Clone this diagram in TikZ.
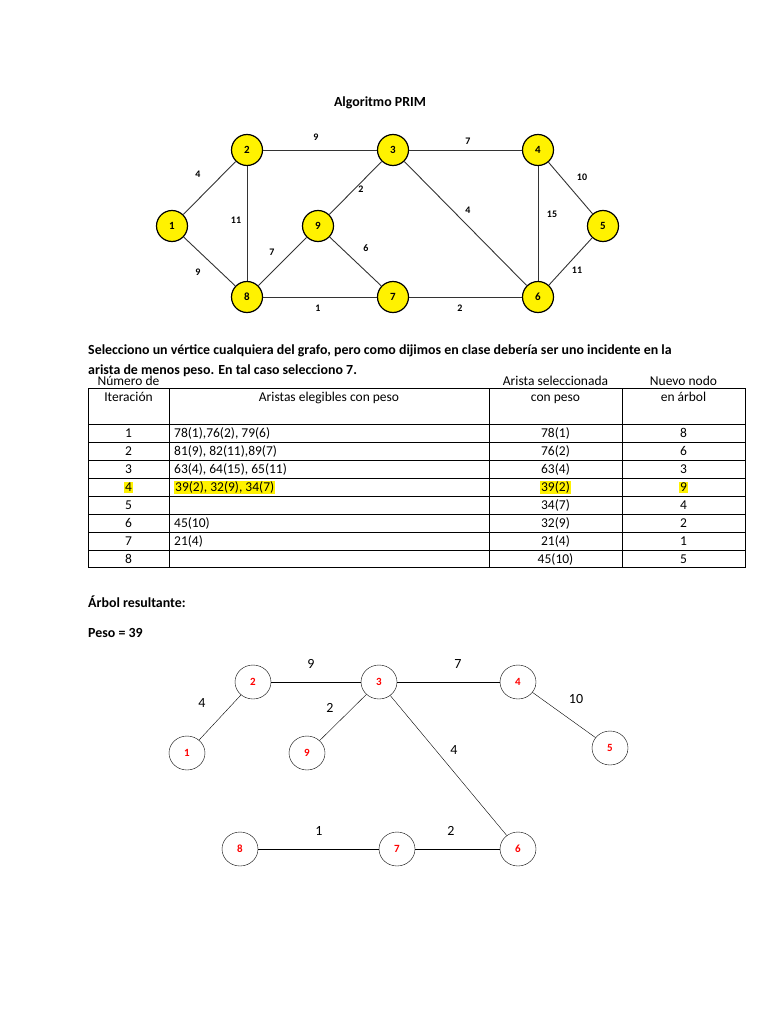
\documentclass[tikz,border=0pt]{standalone}
\usepackage{fontspec}
\setmainfont{Carlito}
\usetikzlibrary{shapes.geometric}
\begin{document}
\begin{tikzpicture}[x=1pt,y=-1pt,
 yn/.style={circle,draw,line width=1.2pt,fill=yellow,minimum size=31pt,inner sep=0pt,font=\fontsize{11}{13}\selectfont\bfseries},
 ge/.style={line width=0.9pt,draw=black!80},
 gl/.style={font=\fontsize{10}{12}\selectfont\bfseries},
 tn/.style={ellipse,draw,minimum width=36pt,minimum height=34pt,inner sep=0pt,text=red,font=\fontsize{11}{13}\selectfont\bfseries},
 tl/.style={font=\fontsize{14}{16}\selectfont},
 tx/.style={font=\fontsize{13.9}{16}\selectfont\bfseries,anchor=base west,inner sep=0pt},
 hl/.style={fill=yellow,inner sep=1pt}]
\useasboundingbox (0,0) rectangle (768,1024);
\node[font=\fontsize{13.9}{16}\selectfont\bfseries] (title) at (380,103) {Algoritmo PRIM};
\node[yn] (n1) at (172,226) {1};
\node[yn] (n2) at (247,150) {2};
\node[yn] (n3) at (393,150) {3};
\node[yn] (n4) at (538,150) {4};
\node[yn] (n5) at (603,226) {5};
\node[yn] (n9) at (318,226) {9};
\node[yn] (n8) at (247,297) {8};
\node[yn] (n7) at (393,297) {7};
\node[yn] (n6) at (538,297) {6};
\draw[ge] (n1)--(n2); \draw[ge] (n2)--(n3); \draw[ge] (n3)--(n4); \draw[ge] (n4)--(n5);
\draw[ge] (n2)--(n8); \draw[ge] (n1)--(n8); \draw[ge] (n3)--(n9); \draw[ge] (n3)--(n6);
\draw[ge] (n4)--(n6); \draw[ge] (n5)--(n6); \draw[ge] (n9)--(n8); \draw[ge] (n9)--(n7);
\draw[ge] (n8)--(n7); \draw[ge] (n7)--(n6);
\node[gl] (l1) at (316,137) {9}; \node[gl] (l2) at (468,141) {7};
\node[gl] (l3) at (198,174) {4}; \node[gl] (l4) at (236,220) {11};
\node[gl] (l5) at (361,189) {2}; \node[gl] (l6) at (468,210) {4};
\node[gl] (l7) at (582,177) {10}; \node[gl] (l8) at (552,214) {15};
\node[gl] (l9) at (272,252) {7}; \node[gl] (l10) at (366,248) {6};
\node[gl] (l11) at (198,272) {9}; \node[gl] (l12) at (577,270) {11};
\node[gl] (l13) at (318,308) {1}; \node[gl] (l14) at (460,308) {2};
\node[tx] (p1) at (88,354) {Selecciono un vértice cualquiera del grafo, pero como dijimos en clase debería ser uno incidente en la};
\node[tx] (p2) at (88,374) {arista de menos peso. En tal caso selecciono 7.};
% table
\draw[line width=0.8pt] (88,388) rectangle (745,567);
\foreach \x in {169,489,622} \draw[line width=0.8pt] (\x,388)--(\x,567);
\foreach \y in {424,442,460,478,496,514,532,550} \draw[line width=0.8pt] (88,\y)--(745,\y);
\begin{scope}[every node/.style={font=\fontsize{13.5}{16}\selectfont,inner sep=0pt,anchor=base}]
\node[align=center] (h1) at (128.5,401) {Número de\\Iteración};
\node (h2) at (329,401) {Aristas elegibles con peso};
\node[align=center] (h3) at (555.5,401) {Arista seleccionada\\con peso};
\node[align=center] (h4) at (683.5,401) {Nuevo nodo\\en árbol};
\foreach \i/\a/\b/\c [count=\k] in {1/{78(1),76(2), 79(6)}/78(1)/8, 2/{81(9), 82(11),89(7)}/76(2)/6, 3/{63(4), 64(15), 65(11)}/63(4)/3, 4/{}/{}/{}, 5/{}/34(7)/4, 6/45(10)/32(9)/2, 7/21(4)/21(4)/1, 8/{}/45(10)/5}{
 \node (c1\k) at (128.5,424+18*\k-4.5) {\i};
 \node[anchor=base west] (c2\k) at (174,424+18*\k-4.5) {\a};
 \node (c3\k) at (555.5,424+18*\k-4.5) {\b};
 \node (c4\k) at (683.5,424+18*\k-4.5) {\c};}
\node[hl] (y1) at (128.5,491.5) {4};
\node[hl,anchor=base west] (y2) at (174,491.5) {39(2), 32(9), 34(7)};
\node[hl] (y3) at (555.5,491.5) {39(2)};
\node[hl] (y4) at (683.5,491.5) {9};
\end{scope}
\node[tx] (ar) at (88,607) {Árbol resultante:};
\node[tx] (pe) at (88,637) {Peso = 39};
% tree
\node[tn] (t2) at (253,682) {2};
\node[tn] (t3) at (379,682) {3};
\node[tn] (t4) at (518,682) {4};
\node[tn] (t1) at (187,753) {1};
\node[tn] (t9) at (307,753) {9};
\node[tn] (t5) at (610,748) {5};
\node[tn] (t8) at (240,849) {8};
\node[tn] (t7) at (397,849) {7};
\node[tn] (t6) at (518,849) {6};
\draw (t2)--(t1); \draw (t2)--(t3); \draw (t3)--(t4); \draw (t4)--(t5);
\draw (t3)--(t9); \draw (t3)--(t6); \draw (t8)--(t7); \draw (t7)--(t6);
\node[tl] (m1) at (311,664) {9}; \node[tl] (m2) at (458,664) {7};
\node[tl] (m3) at (202,703) {4}; \node[tl] (m4) at (576,699) {10};
\node[tl] (m5) at (330,708) {2}; \node[tl] (m6) at (454,750) {4};
\node[tl] (m7) at (319,831) {1}; \node[tl] (m8) at (451,831) {2};
\end{tikzpicture}
\end{document}
